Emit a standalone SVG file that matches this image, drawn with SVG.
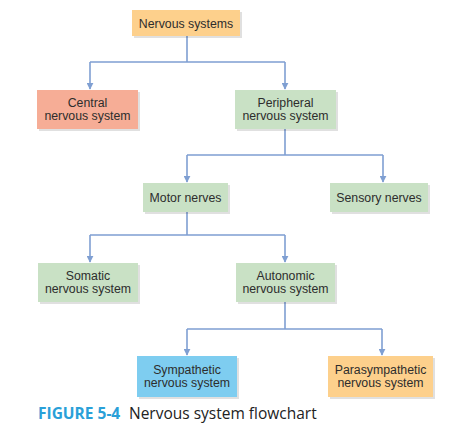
<svg xmlns="http://www.w3.org/2000/svg" width="474" height="441" viewBox="0 0 474 441">
<style>
.box{stroke:none}
.sh{fill:#000;opacity:0.12}
.t{font-family:"Liberation Sans",Arial,sans-serif;font-size:12.3px;fill:#2d2d2d;text-anchor:middle}
.c{fill:none;stroke:#7f9fd2;stroke-width:1.6}
.cap{font-family:"Open Sans","Noto Sans",sans-serif;font-size:15.5px}
</style>
<defs>
<marker id="ah" viewBox="0 0 10 10" refX="9" refY="5" markerWidth="7" markerHeight="7" markerUnits="userSpaceOnUse" orient="auto">
<path d="M0,0 L10,5 L0,10 z" fill="#7f9fd2"/>
</marker>
</defs>
<rect width="474" height="441" fill="#fff"/>
<g id="connectors">
<path class="c" d="M187,36 V62 M90,62 H285"/>
<path class="c" d="M90,62 V89" marker-end="url(#ah)"/>
<path class="c" d="M285,62 V89" marker-end="url(#ah)"/>
<path class="c" d="M285,129 V155 M187,155 H383"/>
<path class="c" d="M187,155 V182" marker-end="url(#ah)"/>
<path class="c" d="M383,155 V182" marker-end="url(#ah)"/>
<path class="c" d="M187,212 V235 M90,235 H285"/>
<path class="c" d="M90,235 V262" marker-end="url(#ah)"/>
<path class="c" d="M285,235 V262" marker-end="url(#ah)"/>
<path class="c" d="M285,302 V329 M187,329 H382"/>
<path class="c" d="M187,329 V355" marker-end="url(#ah)"/>
<path class="c" d="M382,329 V355" marker-end="url(#ah)"/>
</g>
<g id="n-nervous">
<rect class="sh" x="134" y="12" width="108" height="26"/>
<rect class="box" x="132" y="10" width="108" height="26" fill="#fdd08c"/>
<text class="t" x="186" y="27.5">Nervous systems</text>
</g>
<g id="n-central">
<rect class="sh" x="39" y="92" width="101" height="39"/>
<rect class="box" x="37" y="90" width="101" height="39" fill="#f6ad96"/>
<text class="t" x="87.5" y="107">Central</text>
<text class="t" x="87.5" y="120">nervous system</text>
</g>
<g id="n-peripheral">
<rect class="sh" x="237" y="92" width="101" height="39"/>
<rect class="box" x="235" y="90" width="101" height="39" fill="#c9e1c5"/>
<text class="t" x="285.5" y="107">Peripheral</text>
<text class="t" x="285.5" y="120">nervous system</text>
</g>
<g id="n-motor">
<rect class="sh" x="145" y="185" width="85" height="29"/>
<rect class="box" x="143" y="183" width="85" height="29" fill="#c9e1c5"/>
<text class="t" x="185.5" y="201.5">Motor nerves</text>
</g>
<g id="n-sensory">
<rect class="sh" x="332" y="185" width="98" height="29"/>
<rect class="box" x="330" y="183" width="98" height="29" fill="#c9e1c5"/>
<text class="t" x="379" y="201.5">Sensory nerves</text>
</g>
<g id="n-somatic">
<rect class="sh" x="40" y="265" width="100" height="39"/>
<rect class="box" x="38" y="263" width="100" height="39" fill="#c9e1c5"/>
<text class="t" x="88" y="280">Somatic</text>
<text class="t" x="88" y="293">nervous system</text>
</g>
<g id="n-autonomic">
<rect class="sh" x="238" y="265" width="99" height="39"/>
<rect class="box" x="236" y="263" width="99" height="39" fill="#c9e1c5"/>
<text class="t" x="285.5" y="280">Autonomic</text>
<text class="t" x="285.5" y="293">nervous system</text>
</g>
<g id="n-sympathetic">
<rect class="sh" x="139" y="358" width="100" height="41"/>
<rect class="box" x="137" y="356" width="100" height="41" fill="#7ecdf0"/>
<text class="t" x="187" y="374">Sympathetic</text>
<text class="t" x="187" y="387">nervous system</text>
</g>
<g id="n-parasympathetic">
<rect class="sh" x="330" y="358" width="105" height="41"/>
<rect class="box" x="328" y="356" width="105" height="41" fill="#fdd08c"/>
<text class="t" x="380.5" y="374">Parasympathetic</text>
<text class="t" x="380.5" y="387">nervous system</text>
</g>
<text class="cap" x="38" y="419"><tspan font-weight="bold" fill="#2aa0d8">FIGURE 5-4</tspan><tspan x="129" fill="#222">Nervous system flowchart</tspan></text>
</svg>
